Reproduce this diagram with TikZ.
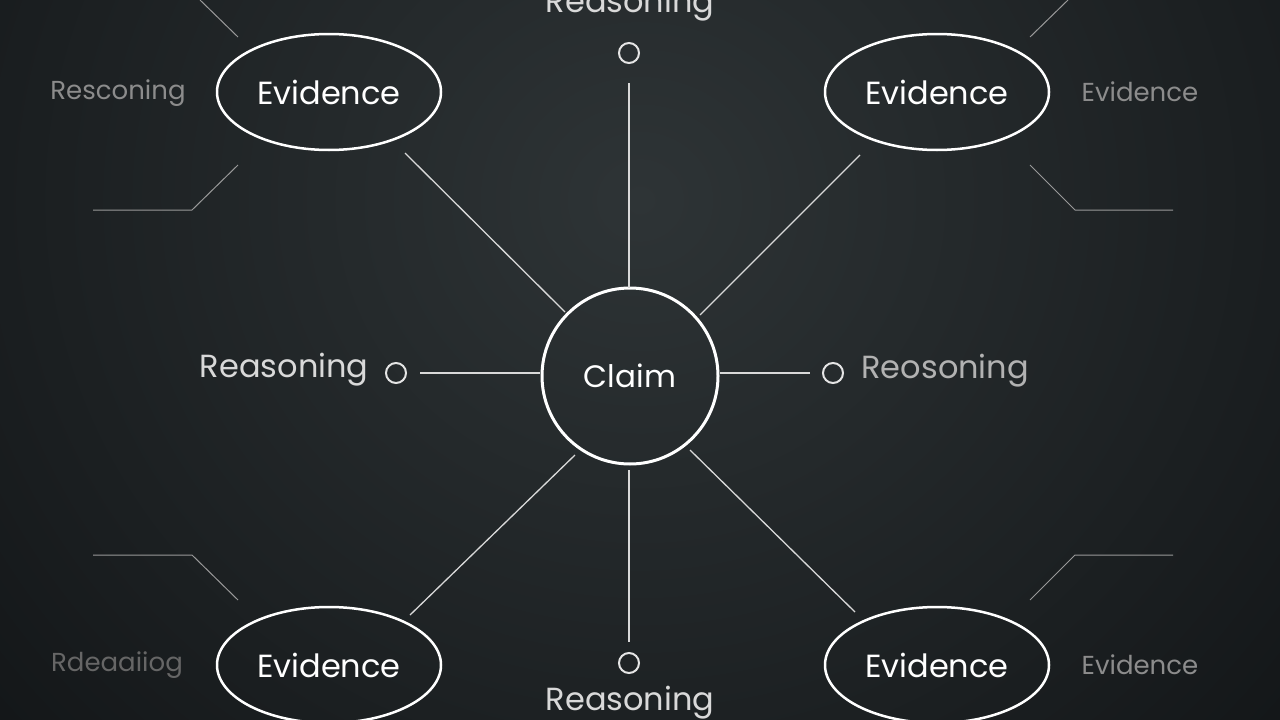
\documentclass[tikz,border=0pt]{standalone}
\usepackage{fontspec}
\setmainfont{Poppins}
\usetikzlibrary{shapes.geometric}
\definecolor{bgin}{RGB}{46,52,54}
\definecolor{bgout}{RGB}{18,21,23}
\begin{document}
\begin{tikzpicture}[x=1pt,y=-1pt,
  ln/.style={draw=white!85!black, line width=1.3pt},
  thin/.style={draw=white!60!black, line width=1pt},
  ev/.style={ellipse, draw=white, line width=2.5pt, minimum width=224pt, minimum height=116pt, text=white, font=\fontsize{32}{33}\selectfont},
  sm/.style={circle, draw=white!90!black, line width=2pt, minimum size=20pt, inner sep=0pt},
  rs/.style={text=white!85!black, font=\fontsize{32}{33}\selectfont},
  gr/.style={text=white!55!black, font=\fontsize{26}{27}\selectfont}]
\useasboundingbox (0,0) rectangle (1280,720);
\begin{scope}
\clip (0,0) rectangle (1280,720);
\shade[inner color=bgin, outer color=bgout] (-260,-650) rectangle (1540,1050);
\end{scope}
\node[circle, draw=white, line width=3pt, minimum size=176pt, text=white, font=\fontsize{31}{32}\selectfont] (c) at (630,376) {Claim};
\node[ev] (e1) at (329,92) {Evidence};
\node[ev] (e2) at (937,92) {Evidence};
\node[ev] (e3) at (329,665) {Evidence};
\node[ev] (e4) at (937,665) {Evidence};
\node[sm] (s1) at (629,53) {};
\node[sm] (s2) at (396,373) {};
\node[sm] (s3) at (833,373) {};
\node[sm] (s4) at (629,663) {};
\coordinate (a1) at (405,153); \coordinate (b1) at (565,312);
\coordinate (a2) at (860,155); \coordinate (b2) at (700,315);
\coordinate (a3) at (410,615); \coordinate (b3) at (575,455);
\coordinate (a4) at (855,612); \coordinate (b4) at (690,450);
\draw[ln] (a1)--(b1); \draw[ln] (a2)--(b2); \draw[ln] (a3)--(b3); \draw[ln] (a4)--(b4);
\coordinate (v1) at (629,83); \coordinate (v2) at (629,288);
\coordinate (v3) at (629,470); \coordinate (v4) at (629,642);
\coordinate (h1) at (420,373); \coordinate (h2) at (540,373);
\coordinate (h3) at (720,373); \coordinate (h4) at (810,373);
\draw[ln] (v1)--(v2); \draw[ln] (v3)--(v4); \draw[ln] (h1)--(h2); \draw[ln] (h3)--(h4);
\node[rs] (r1) at (630,5) {Reasoning};
\node[rs, anchor=east] (r2) at (372,370) {Reasoning};
\node[rs, text=white!70!black, anchor=west] (r3) at (858,371) {Reosoning};
\node[rs] (r4) at (630,703) {Reasoning};
\node[gr] (g1) at (118,93) {Resconing};
\node[gr] (g2) at (1140,92) {Evidence};
\node[gr, text=white!40!black] (g3) at (117,665) {Rdeaaiiog};
\node[gr] (g4) at (1140,665) {Evidence};
\coordinate (t1) at (200,0); \coordinate (t2) at (238,37);
\coordinate (t3) at (238,165); \coordinate (t4) at (192,210); \coordinate (t5) at (93,210);
\draw[thin] (t1)--(t2); \draw[thin] (t3)--(t4)--(t5);
\coordinate (u1) at (1068,0); \coordinate (u2) at (1030,37);
\coordinate (u3) at (1030,165); \coordinate (u4) at (1075,210); \coordinate (u5) at (1173,210);
\draw[thin] (u1)--(u2); \draw[thin] (u3)--(u4)--(u5);
\coordinate (w1) at (93,555); \coordinate (w2) at (192,555); \coordinate (w3) at (238,600);
\draw[thin] (w1)--(w2)--(w3);
\coordinate (z1) at (1173,555); \coordinate (z2) at (1075,555); \coordinate (z3) at (1030,600);
\draw[thin] (z1)--(z2)--(z3);
\end{tikzpicture}
\end{document}
